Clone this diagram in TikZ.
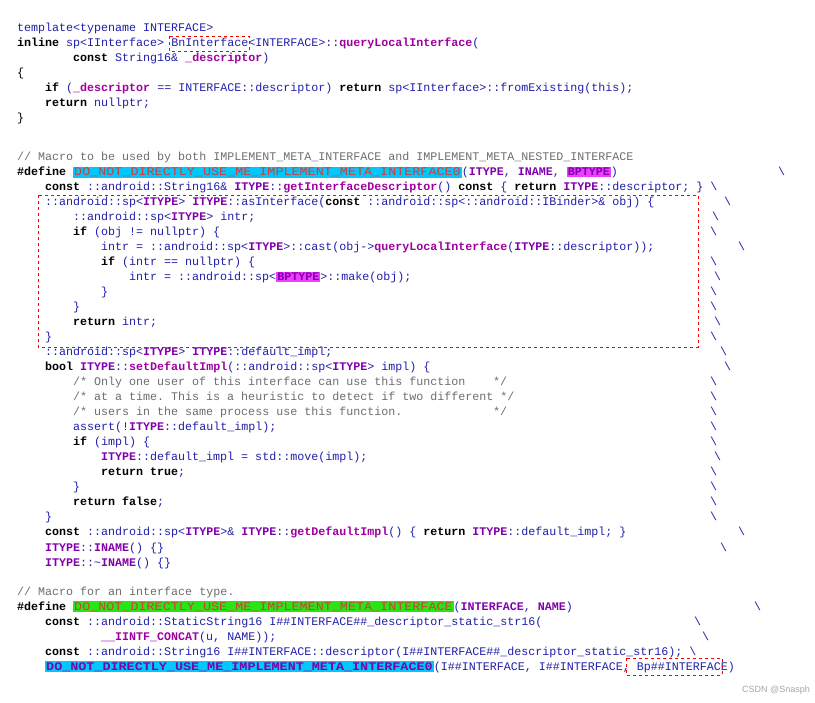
\documentclass[tikz,border=0pt]{standalone}
\usepackage{graphicx}
\usepackage{fontspec}
\setmonofont{Liberation Mono}
\setsansfont{Liberation Sans}
\definecolor{nv}{RGB}{32,32,170}
\definecolor{tyc}{RGB}{128,0,170}
\definecolor{fnc}{RGB}{160,0,160}
\definecolor{cm}{RGB}{110,110,110}
\definecolor{hlred}{RGB}{210,60,60}
\definecolor{cy}{RGB}{0,200,250}
\definecolor{mg}{RGB}{240,60,255}
\definecolor{gr}{RGB}{40,230,20}
\newcommand\kw[1]{{\bfseries\color{black}#1}}
\newcommand\ty[1]{{\bfseries\color{tyc}#1}}
\newcommand\fn[1]{{\bfseries\color{fnc}#1}}
\newcommand\hlc[1]{{\setlength\fboxsep{1pt}\colorbox{cy}{\scalebox{1.15}[1]{\color{hlred}#1}}}}
\newcommand\hlct[1]{{\setlength\fboxsep{1pt}\colorbox{cy}{\scalebox{1.15}[1]{\bfseries\color{tyc}#1}}}}
\newcommand\hlg[1]{{\setlength\fboxsep{1pt}\colorbox{gr}{\scalebox{1.15}[1]{\color{hlred}#1}}}}
\newcommand\hlm[1]{{\setlength\fboxsep{1pt}\colorbox{mg}{\bfseries\color{tyc}#1}}}
\newcommand\cl[4]{\node[code] (#1) at ({17+7*#3},{#2+4}) {#4};}
\newcommand\bs[3]{\node[code] (#1) at (#3,{#2+4}) {\textbackslash};}
\begin{document}
\begin{tikzpicture}[x=1pt,y=-1pt,
  code/.style={anchor=base west,inner sep=0pt,font=\ttfamily\fontsize{11.67}{14}\selectfont,text=nv},
  redbox/.style={draw=red,dashed,line width=0.8pt}]
\useasboundingbox (0,0) rectangle (815,703);
\fill[white] (0,0) rectangle (815,703);
\cl{a1}{28}{0}{template<typename INTERFACE>}
\cl{a2}{43}{0}{\kw{inline} sp<IInterface> BnInterface<INTERFACE>::\fn{queryLocalInterface}(}
\cl{a3}{58}{8}{\kw{const} String16\& \fn{\_descriptor})}
\cl{a4}{73}{0}{\color{black}\{}
\cl{a5}{88}{4}{\kw{if} (\fn{\_descriptor} == INTERFACE::descriptor) \kw{return} sp<IInterface>::fromExisting(this);}
\cl{a6}{103}{4}{\kw{return} nullptr;}
\cl{a7}{118}{0}{\color{black}\}}
\cl{b0}{157}{0}{\color{cm}// Macro to be used by both IMPLEMENT\_META\_INTERFACE and IMPLEMENT\_META\_NESTED\_INTERFACE}
\cl{b1}{172}{0}{\kw{\#define} \hlc{DO\_NOT\_DIRECTLY\_USE\_ME\_IMPLEMENT\_META\_INTERFACE0}(\ty{ITYPE}, \ty{INAME}, \hlm{BPTYPE})}\bs{s1}{172}{778}
\cl{b2}{187}{4}{\kw{const} ::android::String16\& \ty{ITYPE}::\fn{getInterfaceDescriptor}() \kw{const} \{ \kw{return} \ty{ITYPE}::descriptor; \} \textbackslash}
\cl{b3}{202}{4}{::android::sp<\ty{ITYPE}> \ty{ITYPE}::asInterface(\kw{const} ::android::sp<::android::IBinder>\& obj) \{}\bs{s3}{202}{724}
\cl{b4}{217}{8}{::android::sp<\ty{ITYPE}> intr;}\bs{s4}{217}{712}
\cl{b5}{232}{8}{\kw{if} (obj != nullptr) \{}\bs{s5}{232}{710}
\cl{b6}{247}{12}{intr = ::android::sp<\ty{ITYPE}>::cast(obj->\fn{queryLocalInterface}(\ty{ITYPE}::descriptor));}\bs{s6}{247}{738}
\cl{b7}{262}{12}{\kw{if} (intr == nullptr) \{}\bs{s7}{262}{710}
\cl{b8}{277}{16}{intr = ::android::sp<\hlm{BPTYPE}>::make(obj);}\bs{s8}{277}{714}
\cl{b9}{292}{12}{\}}\bs{s9}{292}{710}
\cl{b10}{307}{8}{\}}\bs{s10}{307}{710}
\cl{b11}{322}{8}{\kw{return} intr;}\bs{s11}{322}{714}
\cl{b12}{337}{4}{\}}\bs{s12}{337}{710}
\cl{b13}{352}{4}{::android::sp<\ty{ITYPE}> \ty{ITYPE}::default\_impl;}\bs{s13}{352}{720}
\cl{b14}{367}{4}{\kw{bool} \ty{ITYPE}::\fn{setDefaultImpl}(::android::sp<\ty{ITYPE}> impl) \{}\bs{s14}{367}{724}
\cl{b15}{382}{8}{\color{cm}/* Only one user of this interface can use this function}\cl{c15}{382}{68}{\color{cm}*/}\bs{s15}{382}{710}
\cl{b16}{397}{8}{\color{cm}/* at a time. This is a heuristic to detect if two different */}\bs{s16}{397}{710}
\cl{b17}{412}{8}{\color{cm}/* users in the same process use this function.}\cl{c17}{412}{68}{\color{cm}*/}\bs{s17}{412}{710}
\cl{b18}{427}{8}{assert(!\ty{ITYPE}::default\_impl);}\bs{s18}{427}{710}
\cl{b19}{442}{8}{\kw{if} (impl) \{}\bs{s19}{442}{710}
\cl{b20}{457}{12}{\ty{ITYPE}::default\_impl = std::move(impl);}\bs{s20}{457}{714}
\cl{b21}{472}{12}{\kw{return} \kw{true};}\bs{s21}{472}{710}
\cl{b22}{487}{8}{\}}\bs{s22}{487}{710}
\cl{b23}{502}{8}{\kw{return} \kw{false};}\bs{s23}{502}{710}
\cl{b24}{517}{4}{\}}\bs{s24}{517}{710}
\cl{b25}{532}{4}{\kw{const} ::android::sp<\ty{ITYPE}>\& \ty{ITYPE}::\fn{getDefaultImpl}() \{ \kw{return} \ty{ITYPE}::default\_impl; \}}\bs{s25}{532}{738}
\cl{b26}{547}{4}{\ty{ITYPE}::\ty{INAME}() \{\}}\bs{s26}{547}{720}
\cl{b27}{562}{4}{\ty{ITYPE}::\textasciitilde\ty{INAME}() \{\}}
\cl{d0}{591}{0}{\color{cm}// Macro for an interface type.}
\cl{d1}{606}{0}{\kw{\#define} \hlg{DO\_NOT\_DIRECTLY\_USE\_ME\_IMPLEMENT\_META\_INTERFACE}(\ty{INTERFACE}, \ty{NAME})}\bs{t1}{606}{754}
\cl{d2}{621}{4}{\kw{const} ::android::StaticString16 I\#\#INTERFACE\#\#\_descriptor\_static\_str16(}\bs{t2}{621}{694}
\cl{d3}{636}{12}{\fn{\_\_IINTF\_CONCAT}(u, NAME));}\bs{t3}{636}{702}
\cl{d4}{651}{4}{\kw{const} ::android::String16 I\#\#INTERFACE::descriptor(I\#\#INTERFACE\#\#\_descriptor\_static\_str16); \textbackslash}
\cl{d5}{666}{4}{\hlct{DO\_NOT\_DIRECTLY\_USE\_ME\_IMPLEMENT\_META\_INTERFACE0}(I\#\#INTERFACE, I\#\#INTERFACE, Bp\#\#INTERFACE)}
\node[anchor=base east,inner sep=0pt,font=\sffamily\fontsize{9}{10}\selectfont,text=gray!70] (wm) at (810,692) {CSDN @Snasph};
\draw[redbox] (169,36) rectangle (249,51);
\draw[redbox] (38,195) rectangle (698,347);
\draw[redbox] (626,658) rectangle (722,675);
\end{tikzpicture}
\end{document}
